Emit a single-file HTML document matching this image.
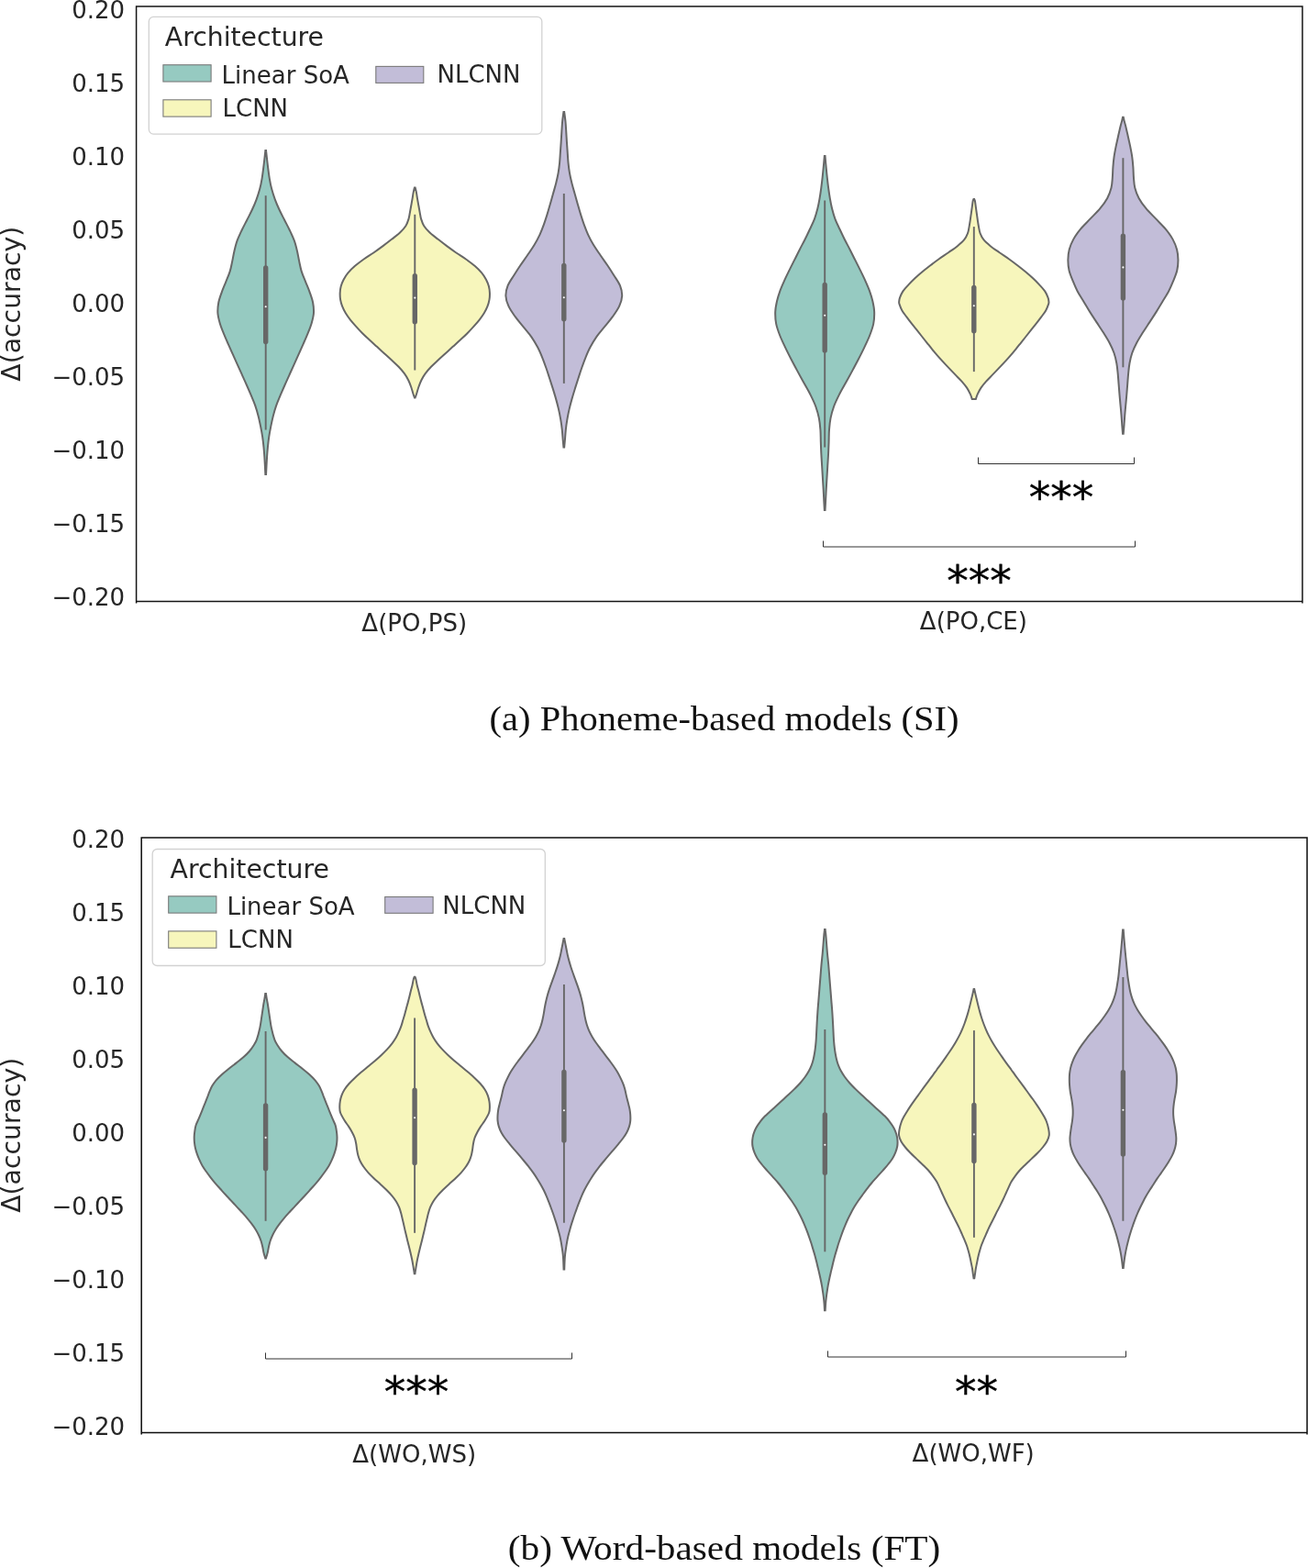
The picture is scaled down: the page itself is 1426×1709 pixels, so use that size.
<!DOCTYPE html>
<html lang="en"><head><meta charset="utf-8"><title>Violin plots</title>
<style>html,body{margin:0;padding:0;background:#fff}svg{display:block}text{font-family:"DejaVu Sans","Liberation Sans",sans-serif;fill:#262626}.cap{font-family:"Liberation Serif","DejaVu Serif",serif;fill:#111}.star{fill:#000}</style>
</head><body>
<svg width="1426" height="1709" viewBox="0 0 1426 1709">
<rect x="0" y="0" width="1426" height="1709" fill="#ffffff"/>
<path d="M290.05 164.1C290.31 166.43 290.97 172.92 291.61 178.05C292.24 183.18 293.08 190.21 293.85 194.88C294.62 199.56 295.22 202.36 296.21 206.1C297.2 209.84 298.41 213.58 299.8 217.32C301.18 221.06 302.79 224.8 304.51 228.54C306.23 232.28 308.23 236.02 310.12 239.76C312.01 243.5 314.07 247.24 315.84 250.98C317.62 254.72 319.43 258.46 320.78 262.2C322.13 265.94 323.02 269.68 323.92 273.42C324.82 277.16 325.36 280.9 326.17 284.64C326.97 288.38 327.59 292.12 328.75 295.86C329.91 299.6 331.64 303.34 333.12 307.08C334.6 310.82 336.28 314.56 337.61 318.3C338.94 322.04 340.36 325.7 341.09 329.52C341.82 333.34 342.23 337.4 341.99 341.22C341.74 345.04 340.71 348.7 339.63 352.44C338.55 356.18 336.97 359.92 335.48 363.66C333.98 367.4 332.3 371.14 330.65 374.88C329.01 378.62 327.29 382.36 325.6 386.1C323.92 389.84 322.24 393.58 320.56 397.32C318.87 401.06 317.19 404.8 315.51 408.54C313.82 412.28 312.1 416.02 310.46 419.76C308.81 423.5 307.18 427.24 305.63 430.98C304.08 434.72 302.45 438.46 301.14 442.2C299.84 445.94 298.75 449.68 297.78 453.42C296.81 457.16 296.06 460.9 295.31 464.64C294.56 468.38 293.85 472.12 293.29 475.86C292.73 479.6 292.32 483.34 291.94 487.08C291.57 490.82 291.36 493.33 291.05 498.3C290.73 503.27 290.22 513.8 290.05 516.9L289.35 516.9C289.18 513.8 288.67 503.27 288.35 498.3C288.04 493.33 287.83 490.82 287.46 487.08C287.08 483.34 286.67 479.6 286.11 475.86C285.55 472.12 284.84 468.38 284.09 464.64C283.34 460.9 282.59 457.16 281.62 453.42C280.65 449.68 279.56 445.94 278.26 442.2C276.95 438.46 275.32 434.72 273.77 430.98C272.22 427.24 270.59 423.5 268.94 419.76C267.3 416.02 265.58 412.28 263.89 408.54C262.21 404.8 260.53 401.06 258.84 397.32C257.16 393.58 255.48 389.84 253.8 386.1C252.11 382.36 250.39 378.62 248.75 374.88C247.1 371.14 245.42 367.4 243.92 363.66C242.43 359.92 240.85 356.18 239.77 352.44C238.69 348.7 237.66 345.04 237.41 341.22C237.17 337.4 237.58 333.34 238.31 329.52C239.04 325.7 240.46 322.04 241.79 318.3C243.12 314.56 244.8 310.82 246.28 307.08C247.76 303.34 249.49 299.6 250.65 295.86C251.81 292.12 252.43 288.38 253.23 284.64C254.04 280.9 254.58 277.16 255.48 273.42C256.38 269.68 257.27 265.94 258.62 262.2C259.97 258.46 261.78 254.72 263.56 250.98C265.33 247.24 267.39 243.5 269.28 239.76C271.17 236.02 273.17 232.28 274.89 228.54C276.61 224.8 278.22 221.06 279.6 217.32C280.99 213.58 282.2 209.84 283.19 206.1C284.18 202.36 284.78 199.56 285.55 194.88C286.32 190.21 287.16 183.18 287.79 178.05C288.43 172.92 289.09 166.43 289.35 164.1Z" fill="#96cac1" stroke="#676767" stroke-width="2" stroke-linejoin="miter"/>
<line x1="289.7" y1="213.2" x2="289.7" y2="468.5" stroke="#676767" stroke-width="1.9"/>
<line x1="289.7" y1="291.9" x2="289.7" y2="372.5" stroke="#676767" stroke-width="5.4" stroke-linecap="round"/>
<circle cx="289.7" cy="334.3" r="1.05" fill="#ffffff"/>
<path d="M452.65 204.4C452.86 205.27 453.5 207.54 453.91 209.63C454.31 211.72 454.66 214.5 455.08 216.94C455.49 219.38 455.96 221.82 456.4 224.26C456.83 226.69 457.25 229.13 457.71 231.57C458.18 234.01 458.42 236.45 459.18 238.89C459.93 241.32 460.69 243.76 462.25 246.2C463.81 248.64 465.98 251.08 468.54 253.51C471.1 255.95 474.51 258.39 477.61 260.83C480.7 263.27 483.82 265.7 487.12 268.14C490.41 270.58 493.82 273.02 497.36 275.46C500.89 277.89 504.91 280.33 508.33 282.77C511.74 285.21 515.03 287.65 517.84 290.08C520.64 292.52 523.13 294.96 525.15 297.4C527.17 299.84 528.68 302.28 529.98 304.71C531.27 307.15 532.24 309.59 532.9 312.03C533.56 314.47 533.83 316.9 533.93 319.34C534.02 321.78 533.9 324.22 533.49 326.66C533.07 329.09 532.39 331.53 531.44 333.97C530.49 336.41 529.25 338.85 527.78 341.28C526.32 343.72 524.56 346.16 522.66 348.6C520.76 351.04 518.57 353.47 516.37 355.91C514.18 358.35 511.94 360.79 509.5 363.23C507.06 365.67 504.38 368.1 501.74 370.54C499.11 372.98 496.38 375.42 493.7 377.86C491.02 380.29 488.33 382.73 485.65 385.17C482.97 387.61 480.22 390.05 477.61 392.48C475 394.92 472.32 397.36 470 399.8C467.68 402.24 465.49 404.67 463.71 407.11C461.93 409.55 460.54 411.99 459.32 414.43C458.1 416.86 457.25 419.3 456.4 421.74C455.54 424.18 454.83 427.1 454.2 429.06C453.58 431.01 452.91 432.76 452.65 433.5L451.95 433.5C451.69 432.76 451.02 431.01 450.4 429.06C449.77 427.1 449.06 424.18 448.2 421.74C447.35 419.3 446.5 416.86 445.28 414.43C444.06 411.99 442.67 409.55 440.89 407.11C439.11 404.67 436.92 402.24 434.6 399.8C432.28 397.36 429.6 394.92 426.99 392.48C424.38 390.05 421.63 387.61 418.95 385.17C416.27 382.73 413.58 380.29 410.9 377.86C408.22 375.42 405.49 372.98 402.86 370.54C400.22 368.1 397.54 365.67 395.1 363.23C392.66 360.79 390.42 358.35 388.23 355.91C386.03 353.47 383.84 351.04 381.94 348.6C380.04 346.16 378.28 343.72 376.82 341.28C375.35 338.85 374.11 336.41 373.16 333.97C372.21 331.53 371.53 329.09 371.11 326.66C370.7 324.22 370.58 321.78 370.67 319.34C370.77 316.9 371.04 314.47 371.7 312.03C372.36 309.59 373.33 307.15 374.62 304.71C375.92 302.28 377.43 299.84 379.45 297.4C381.47 294.96 383.96 292.52 386.76 290.08C389.57 287.65 392.86 285.21 396.27 282.77C399.69 280.33 403.71 277.89 407.24 275.46C410.78 273.02 414.19 270.58 417.48 268.14C420.78 265.7 423.9 263.27 426.99 260.83C430.09 258.39 433.5 255.95 436.06 253.51C438.62 251.08 440.79 248.64 442.35 246.2C443.91 243.76 444.67 241.32 445.42 238.89C446.18 236.45 446.42 234.01 446.89 231.57C447.35 229.13 447.77 226.69 448.2 224.26C448.64 221.82 449.11 219.38 449.52 216.94C449.94 214.5 450.29 211.72 450.69 209.63C451.1 207.54 451.74 205.27 451.95 204.4Z" fill="#f7f6bc" stroke="#676767" stroke-width="2" stroke-linejoin="miter"/>
<line x1="452.3" y1="233.8" x2="452.3" y2="403.5" stroke="#676767" stroke-width="1.9"/>
<line x1="452.3" y1="300.8" x2="452.3" y2="350.8" stroke="#676767" stroke-width="5.4" stroke-linecap="round"/>
<circle cx="452.3" cy="324.6" r="1.05" fill="#ffffff"/>
<path d="M615.15 121.9C615.37 123.66 616.13 128.81 616.48 132.44C616.84 136.07 617.03 139.92 617.27 143.66C617.51 147.4 617.7 151.14 617.94 154.88C618.18 158.62 618.47 162.36 618.73 166.1C618.99 169.84 619.14 173.58 619.51 177.32C619.89 181.06 620.32 184.8 620.97 188.54C621.63 192.28 622.5 196.02 623.44 199.76C624.37 203.5 625.53 207.24 626.58 210.98C627.63 214.72 628.66 218.46 629.72 222.2C630.79 225.94 631.82 229.68 632.98 233.42C634.14 237.16 635.31 240.9 636.68 244.64C638.04 248.38 639.43 252.12 641.17 255.86C642.91 259.6 644.87 263.34 647.11 267.08C649.36 270.82 652.07 274.56 654.63 278.3C657.19 282.04 660.05 285.91 662.49 289.52C664.92 293.13 666.97 296.34 669.22 299.96C671.46 303.57 674.45 307.47 675.95 311.22C677.45 314.97 678.33 318.7 678.19 322.44C678.06 326.18 676.85 329.92 675.16 333.66C673.48 337.4 670.77 341.14 668.1 344.88C665.42 348.62 662.11 352.36 659.12 356.1C656.13 359.84 652.76 363.58 650.14 367.32C647.53 371.06 645.38 374.8 643.41 378.54C641.45 382.28 639.9 386.02 638.36 389.76C636.83 393.5 635.52 397.24 634.21 400.98C632.9 404.72 631.72 408.46 630.51 412.2C629.29 415.94 628.08 419.68 626.92 423.42C625.76 427.16 624.6 430.9 623.55 434.64C622.5 438.38 621.49 442.12 620.63 445.86C619.77 449.6 619.03 453.34 618.39 457.08C617.75 460.82 617.23 464.56 616.82 468.3C616.41 472.04 616.2 476.31 615.92 479.52C615.64 482.74 615.28 486.25 615.15 487.6L614.45 487.6C614.32 486.25 613.96 482.74 613.68 479.52C613.4 476.31 613.19 472.04 612.78 468.3C612.37 464.56 611.85 460.82 611.21 457.08C610.57 453.34 609.83 449.6 608.97 445.86C608.11 442.12 607.1 438.38 606.05 434.64C605 430.9 603.84 427.16 602.68 423.42C601.52 419.68 600.31 415.94 599.09 412.2C597.88 408.46 596.7 404.72 595.39 400.98C594.08 397.24 592.77 393.5 591.24 389.76C589.7 386.02 588.15 382.28 586.19 378.54C584.22 374.8 582.07 371.06 579.46 367.32C576.84 363.58 573.47 359.84 570.48 356.1C567.49 352.36 564.18 348.62 561.5 344.88C558.83 341.14 556.12 337.4 554.44 333.66C552.75 329.92 551.54 326.18 551.41 322.44C551.27 318.7 552.15 314.97 553.65 311.22C555.15 307.47 558.14 303.57 560.38 299.96C562.63 296.34 564.68 293.13 567.11 289.52C569.55 285.91 572.41 282.04 574.97 278.3C577.53 274.56 580.24 270.82 582.49 267.08C584.73 263.34 586.69 259.6 588.43 255.86C590.17 252.12 591.56 248.38 592.92 244.64C594.29 240.9 595.46 237.16 596.62 233.42C597.78 229.68 598.81 225.94 599.88 222.2C600.94 218.46 601.97 214.72 603.02 210.98C604.07 207.24 605.23 203.5 606.16 199.76C607.1 196.02 607.97 192.28 608.63 188.54C609.28 184.8 609.71 181.06 610.09 177.32C610.46 173.58 610.61 169.84 610.87 166.1C611.13 162.36 611.42 158.62 611.66 154.88C611.9 151.14 612.09 147.4 612.33 143.66C612.57 139.92 612.76 136.07 613.12 132.44C613.47 128.81 614.23 123.66 614.45 121.9Z" fill="#c2bdd8" stroke="#676767" stroke-width="2" stroke-linejoin="miter"/>
<line x1="614.8" y1="211" x2="614.8" y2="417.9" stroke="#676767" stroke-width="1.9"/>
<line x1="614.8" y1="289.5" x2="614.8" y2="347.7" stroke="#676767" stroke-width="5.4" stroke-linecap="round"/>
<circle cx="614.8" cy="324.3" r="1.05" fill="#ffffff"/>
<path d="M899.55 170.1C899.73 172.16 900.29 178.51 900.66 182.44C901.03 186.37 901.37 189.92 901.78 193.66C902.19 197.4 902.62 201.14 903.13 204.88C903.63 208.62 904.16 212.36 904.81 216.1C905.46 219.84 906.12 223.58 907.05 227.32C907.99 231.06 909.02 234.8 910.42 238.54C911.82 242.28 913.73 246.02 915.47 249.76C917.21 253.5 918.98 257.24 920.85 260.98C922.73 264.72 924.78 268.46 926.69 272.2C928.6 275.94 930.43 279.68 932.3 283.42C934.17 287.16 936.08 290.9 937.91 294.64C939.74 298.38 941.61 302.12 943.3 305.86C944.98 309.6 946.66 313.34 948.01 317.08C949.35 320.82 950.51 324.52 951.37 328.3C952.23 332.08 953.02 335.67 953.16 339.76C953.31 343.86 953.08 348.54 952.24 352.87C951.4 357.2 949.77 361.46 948.12 365.75C946.47 370.04 944.36 374.33 942.32 378.62C940.29 382.91 938.1 387.2 935.89 391.49C933.68 395.78 931.38 400.07 929.07 404.37C926.75 408.66 924.35 412.95 921.99 417.24C919.63 421.53 917.05 425.82 914.91 430.11C912.76 434.4 910.68 438.69 909.11 442.98C907.55 447.28 906.37 451.57 905.51 455.86C904.65 460.15 904.28 464.44 903.96 468.73C903.64 473.02 903.73 477.31 903.58 481.6C903.43 485.89 903.28 490.19 903.06 494.48C902.85 498.77 902.55 503.06 902.29 507.35C902.03 511.64 901.77 515.93 901.52 520.22C901.26 524.51 900.98 528.8 900.74 533.1C900.51 537.39 900.3 542.13 900.1 545.97C899.9 549.8 899.64 554.41 899.55 556.1L898.85 556.1C898.76 554.41 898.5 549.8 898.3 545.97C898.1 542.13 897.89 537.39 897.66 533.1C897.42 528.8 897.14 524.51 896.88 520.22C896.63 515.93 896.37 511.64 896.11 507.35C895.85 503.06 895.55 498.77 895.34 494.48C895.12 490.19 894.97 485.89 894.82 481.6C894.67 477.31 894.76 473.02 894.44 468.73C894.12 464.44 893.75 460.15 892.89 455.86C892.03 451.57 890.85 447.28 889.29 442.98C887.72 438.69 885.64 434.4 883.49 430.11C881.35 425.82 878.77 421.53 876.41 417.24C874.05 412.95 871.65 408.66 869.33 404.37C867.02 400.07 864.72 395.78 862.51 391.49C860.3 387.2 858.11 382.91 856.08 378.62C854.04 374.33 851.93 370.04 850.28 365.75C848.63 361.46 847 357.2 846.16 352.87C845.32 348.54 845.09 343.86 845.24 339.76C845.38 335.67 846.17 332.08 847.03 328.3C847.89 324.52 849.05 320.82 850.39 317.08C851.74 313.34 853.42 309.6 855.1 305.86C856.79 302.12 858.66 298.38 860.49 294.64C862.32 290.9 864.23 287.16 866.1 283.42C867.97 279.68 869.8 275.94 871.71 272.2C873.62 268.46 875.67 264.72 877.55 260.98C879.42 257.24 881.19 253.5 882.93 249.76C884.67 246.02 886.58 242.28 887.98 238.54C889.38 234.8 890.41 231.06 891.35 227.32C892.28 223.58 892.94 219.84 893.59 216.1C894.24 212.36 894.77 208.62 895.27 204.88C895.78 201.14 896.21 197.4 896.62 193.66C897.03 189.92 897.37 186.37 897.74 182.44C898.11 178.51 898.67 172.16 898.85 170.1Z" fill="#96cac1" stroke="#676767" stroke-width="2" stroke-linejoin="miter"/>
<line x1="899.2" y1="218.6" x2="899.2" y2="487.4" stroke="#676767" stroke-width="1.9"/>
<line x1="899.2" y1="310.5" x2="899.2" y2="381.9" stroke="#676767" stroke-width="5.4" stroke-linecap="round"/>
<circle cx="899.2" cy="343.8" r="1.05" fill="#ffffff"/>
<path d="M1062.15 217.1C1062.28 217.42 1062.63 217.55 1062.92 219.04C1063.22 220.54 1063.58 223.72 1063.91 226.06C1064.23 228.41 1064.56 230.75 1064.89 233.09C1065.22 235.43 1065.52 237.77 1065.87 240.11C1066.22 242.45 1066.55 244.79 1067 247.13C1067.44 249.47 1067.65 251.81 1068.54 254.15C1069.43 256.49 1070.46 258.83 1072.33 261.17C1074.2 263.51 1076.9 265.85 1079.78 268.19C1082.65 270.54 1086.26 272.88 1089.61 275.22C1092.95 277.56 1096.58 279.9 1099.86 282.24C1103.13 284.58 1106.22 286.92 1109.27 289.26C1112.31 291.6 1115.3 293.94 1118.11 296.28C1120.92 298.62 1123.61 300.96 1126.12 303.3C1128.62 305.64 1130.96 307.98 1133.14 310.32C1135.32 312.67 1137.61 315.01 1139.18 317.35C1140.75 319.69 1141.85 322.5 1142.55 324.37C1143.25 326.24 1143.3 327.41 1143.39 328.58C1143.49 329.75 1143.65 329.75 1143.11 331.39C1142.57 333.03 1141.47 336.07 1140.16 338.41C1138.85 340.75 1136.96 343.09 1135.25 345.43C1133.54 347.77 1131.74 350.11 1129.91 352.45C1128.08 354.8 1126.17 357.14 1124.29 359.48C1122.42 361.82 1120.55 364.16 1118.68 366.5C1116.8 368.84 1114.93 371.18 1113.06 373.52C1111.19 375.86 1109.36 378.2 1107.44 380.54C1105.52 382.88 1103.58 385.22 1101.54 387.56C1099.51 389.9 1097.38 392.24 1095.22 394.58C1093.07 396.93 1090.85 399.27 1088.62 401.61C1086.4 403.95 1084.13 406.29 1081.88 408.63C1079.63 410.97 1077.2 413.31 1075.14 415.65C1073.08 417.99 1071.09 420.33 1069.52 422.67C1067.96 425.01 1066.69 427.62 1065.73 429.69C1064.78 431.76 1064.12 434.2 1063.8 435.1L1059.8 435.1C1059.48 434.2 1058.82 431.76 1057.87 429.69C1056.91 427.62 1055.64 425.01 1054.08 422.67C1052.51 420.33 1050.52 417.99 1048.46 415.65C1046.4 413.31 1043.97 410.97 1041.72 408.63C1039.47 406.29 1037.2 403.95 1034.98 401.61C1032.75 399.27 1030.53 396.93 1028.38 394.58C1026.22 392.24 1024.09 389.9 1022.06 387.56C1020.02 385.22 1018.08 382.88 1016.16 380.54C1014.24 378.2 1012.41 375.86 1010.54 373.52C1008.67 371.18 1006.8 368.84 1004.92 366.5C1003.05 364.16 1001.18 361.82 999.31 359.48C997.43 357.14 995.52 354.8 993.69 352.45C991.86 350.11 990.06 347.77 988.35 345.43C986.64 343.09 984.75 340.75 983.44 338.41C982.13 336.07 981.03 333.03 980.49 331.39C979.95 329.75 980.11 329.75 980.21 328.58C980.3 327.41 980.35 326.24 981.05 324.37C981.75 322.5 982.85 319.69 984.42 317.35C985.99 315.01 988.28 312.67 990.46 310.32C992.64 307.98 994.98 305.64 997.48 303.3C999.99 300.96 1002.68 298.62 1005.49 296.28C1008.3 293.94 1011.29 291.6 1014.33 289.26C1017.38 286.92 1020.47 284.58 1023.74 282.24C1027.02 279.9 1030.65 277.56 1033.99 275.22C1037.34 272.88 1040.95 270.54 1043.82 268.19C1046.7 265.85 1049.4 263.51 1051.27 261.17C1053.14 258.83 1054.17 256.49 1055.06 254.15C1055.95 251.81 1056.16 249.47 1056.6 247.13C1057.05 244.79 1057.38 242.45 1057.73 240.11C1058.08 237.77 1058.38 235.43 1058.71 233.09C1059.04 230.75 1059.37 228.41 1059.69 226.06C1060.02 223.72 1060.38 220.54 1060.68 219.04C1060.97 217.55 1061.32 217.42 1061.45 217.1Z" fill="#f7f6bc" stroke="#676767" stroke-width="2" stroke-linejoin="miter"/>
<line x1="1061.8" y1="247.1" x2="1061.8" y2="405.1" stroke="#676767" stroke-width="1.9"/>
<line x1="1061.8" y1="313.5" x2="1061.8" y2="360.8" stroke="#676767" stroke-width="5.4" stroke-linecap="round"/>
<circle cx="1061.8" cy="333.2" r="1.05" fill="#ffffff"/>
<path d="M1224.75 127.7C1224.9 128.39 1225.23 130.21 1225.63 131.83C1226.04 133.45 1226.51 134.64 1227.21 137.44C1227.9 140.25 1228.94 144.92 1229.79 148.66C1230.63 152.4 1231.51 156.14 1232.25 159.88C1233 163.62 1233.75 167.36 1234.27 171.1C1234.8 174.84 1235.12 178.58 1235.4 182.32C1235.68 186.06 1235.64 189.8 1235.96 193.54C1236.27 197.28 1236.37 201.02 1237.3 204.76C1238.24 208.5 1239.55 212.24 1241.57 215.98C1243.59 219.72 1246.34 223.46 1249.42 227.2C1252.51 230.94 1256.53 234.68 1260.08 238.42C1263.63 242.16 1267.65 245.9 1270.74 249.64C1273.82 253.38 1276.54 257.12 1278.59 260.86C1280.65 264.6 1282.11 268.34 1283.08 272.08C1284.05 275.82 1284.4 279.52 1284.43 283.3C1284.46 287.08 1284.13 290.94 1283.25 294.76C1282.37 298.58 1280.68 302.44 1279.15 306.22C1277.63 310 1276.07 313.7 1274.11 317.44C1272.14 321.18 1269.62 324.92 1267.37 328.66C1265.13 332.4 1262.98 336.14 1260.64 339.88C1258.3 343.62 1255.78 347.36 1253.35 351.1C1250.92 354.84 1248.39 358.58 1246.05 362.32C1243.72 366.06 1241.29 369.8 1239.32 373.54C1237.36 377.28 1235.58 381.02 1234.27 384.76C1232.96 388.5 1232.16 392.24 1231.47 395.98C1230.78 399.72 1230.5 403.46 1230.12 407.2C1229.75 410.94 1229.52 414.68 1229.22 418.42C1228.93 422.16 1228.64 425.9 1228.33 429.64C1228.01 433.38 1227.65 437.12 1227.32 440.86C1226.98 444.6 1226.61 448.34 1226.31 452.08C1226.01 455.82 1225.78 459.85 1225.52 463.3C1225.26 466.76 1224.88 471.22 1224.75 472.8L1224.05 472.8C1223.92 471.22 1223.54 466.76 1223.28 463.3C1223.02 459.85 1222.79 455.82 1222.49 452.08C1222.19 448.34 1221.82 444.6 1221.48 440.86C1221.15 437.12 1220.79 433.38 1220.47 429.64C1220.16 425.9 1219.87 422.16 1219.58 418.42C1219.28 414.68 1219.05 410.94 1218.68 407.2C1218.3 403.46 1218.02 399.72 1217.33 395.98C1216.64 392.24 1215.84 388.5 1214.53 384.76C1213.22 381.02 1211.44 377.28 1209.48 373.54C1207.51 369.8 1205.08 366.06 1202.75 362.32C1200.41 358.58 1197.88 354.84 1195.45 351.1C1193.02 347.36 1190.5 343.62 1188.16 339.88C1185.82 336.14 1183.67 332.4 1181.43 328.66C1179.18 324.92 1176.66 321.18 1174.69 317.44C1172.73 313.7 1171.17 310 1169.65 306.22C1168.12 302.44 1166.43 298.58 1165.55 294.76C1164.67 290.94 1164.34 287.08 1164.37 283.3C1164.4 279.52 1164.75 275.82 1165.72 272.08C1166.69 268.34 1168.15 264.6 1170.21 260.86C1172.26 257.12 1174.98 253.38 1178.06 249.64C1181.15 245.9 1185.17 242.16 1188.72 238.42C1192.27 234.68 1196.29 230.94 1199.38 227.2C1202.46 223.46 1205.21 219.72 1207.23 215.98C1209.25 212.24 1210.56 208.5 1211.5 204.76C1212.43 201.02 1212.53 197.28 1212.84 193.54C1213.16 189.8 1213.12 186.06 1213.4 182.32C1213.68 178.58 1214 174.84 1214.53 171.1C1215.05 167.36 1215.8 163.62 1216.55 159.88C1217.29 156.14 1218.17 152.4 1219.01 148.66C1219.86 144.92 1220.9 140.25 1221.59 137.44C1222.29 134.64 1222.76 133.45 1223.17 131.83C1223.57 130.21 1223.9 128.39 1224.05 127.7Z" fill="#c2bdd8" stroke="#676767" stroke-width="2" stroke-linejoin="miter"/>
<line x1="1224.4" y1="172.2" x2="1224.4" y2="400.3" stroke="#676767" stroke-width="1.9"/>
<line x1="1224.4" y1="257.2" x2="1224.4" y2="324.9" stroke="#676767" stroke-width="5.4" stroke-linecap="round"/>
<circle cx="1224.4" cy="291.4" r="1.05" fill="#ffffff"/>
<path d="M1066.5 498.5L1066.5 505.5L1236.5 505.5L1236.5 498.5" fill="none" stroke="#333333" stroke-width="1"/>
<path d="M897.5 589.5L897.5 596L1237.5 596L1237.5 589.5" fill="none" stroke="#333333" stroke-width="1"/>
<text class="star" x="1157" y="558.4" font-size="47" text-anchor="middle" stroke="#000" stroke-width="0.4">***</text>
<text class="star" x="1067.6" y="649.4" font-size="47" text-anchor="middle" stroke="#000" stroke-width="0.4">***</text>
<rect x="162.3" y="18.4" width="428.5" height="127.7" rx="5" ry="5" fill="#ffffff" fill-opacity="0.8" stroke="#d2d2d2" stroke-width="1.3"/>
<text x="179.8" y="50.4" font-size="28.3" text-anchor="start">Architecture</text>
<rect x="177.9" y="70.7" width="52.2" height="18.3" fill="#96cac1" stroke="#7a7a7a" stroke-width="1.1"/>
<rect x="177.9" y="108.8" width="52.2" height="18.3" fill="#f7f6bc" stroke="#7a7a7a" stroke-width="1.1"/>
<rect x="409.8" y="72.4" width="52" height="18" fill="#c2bdd8" stroke="#7a7a7a" stroke-width="1.1"/>
<text x="241.6" y="90.6" font-size="26" text-anchor="start">Linear SoA</text>
<text x="242.5" y="126.9" font-size="26" text-anchor="start">LCNN</text>
<text x="476.5" y="89.9" font-size="26" text-anchor="start">NLCNN</text>
<path d="M148.6 657.4L148.6 6.9L1419.9 6.9L1419.9 657.4L1419.9 655.4" fill="none" stroke="#141414" stroke-width="1.5"/>
<line x1="148.6" y1="655.4" x2="1419.9" y2="655.4" stroke="#141414" stroke-width="1.5"/>
<text x="136.1" y="19.8" font-size="26" text-anchor="end">0.20</text>
<text x="136.1" y="99.8" font-size="26" text-anchor="end">0.15</text>
<text x="136.1" y="179.8" font-size="26" text-anchor="end">0.10</text>
<text x="136.1" y="259.8" font-size="26" text-anchor="end">0.05</text>
<text x="136.1" y="339.8" font-size="26" text-anchor="end">0.00</text>
<text x="136.1" y="419.8" font-size="26" text-anchor="end">−0.05</text>
<text x="136.1" y="499.8" font-size="26" text-anchor="end">−0.10</text>
<text x="136.1" y="579.8" font-size="26" text-anchor="end">−0.15</text>
<text x="136.1" y="659.8" font-size="26" text-anchor="end">−0.20</text>
<text transform="translate(21.6 331.15) rotate(-90)" font-size="28.3" text-anchor="middle">Δ(accuracy)</text>
<text x="451.7" y="687.5" font-size="26" text-anchor="middle">Δ(PO,PS)</text>
<text x="1061.4" y="685.7" font-size="26" text-anchor="middle">Δ(PO,CE)</text>
<path d="M289.95 1082.9C290.1 1083.91 290.52 1086.88 290.86 1088.93C291.2 1090.99 291.49 1092.09 292 1095.25C292.5 1098.4 293.24 1103.66 293.89 1107.87C294.54 1112.08 295.01 1116.28 295.91 1120.49C296.82 1124.7 298.18 1129.96 299.32 1133.11C300.46 1136.27 301.4 1137.32 302.73 1139.42C304.05 1141.53 305.46 1143.63 307.27 1145.74C309.08 1147.84 311.23 1149.94 313.58 1152.05C315.94 1154.15 318.74 1156.26 321.41 1158.36C324.08 1160.46 326.98 1162.57 329.61 1164.67C332.24 1166.77 334.87 1168.88 337.19 1170.98C339.5 1173.09 341.71 1175.19 343.5 1177.29C345.29 1179.4 346.7 1181.5 347.92 1183.6C349.14 1185.71 349.94 1187.81 350.82 1189.92C351.7 1192.02 352.4 1194.12 353.22 1196.23C354.04 1198.33 354.9 1200.43 355.74 1202.54C356.58 1204.64 357.43 1206.75 358.27 1208.85C359.11 1210.95 360.03 1213.31 360.79 1215.16C361.55 1217.01 362.01 1218.1 362.81 1219.96C363.61 1221.82 364.92 1224.2 365.59 1226.31C366.26 1228.42 366.54 1230.52 366.85 1232.62C367.17 1234.73 367.42 1236.83 367.48 1238.93C367.55 1241.04 367.44 1243.14 367.23 1245.25C367.02 1247.35 366.7 1249.45 366.22 1251.56C365.74 1253.66 365.06 1255.76 364.33 1257.87C363.59 1259.97 362.75 1262.08 361.8 1264.18C360.86 1266.28 359.87 1268.39 358.65 1270.49C357.43 1272.59 355.95 1274.7 354.48 1276.8C353.01 1278.91 351.43 1281.01 349.81 1283.11C348.19 1285.22 346.55 1287.32 344.76 1289.42C342.97 1291.53 340.97 1293.63 339.08 1295.74C337.19 1297.84 335.34 1299.94 333.4 1302.05C331.47 1304.15 329.42 1306.26 327.47 1308.36C325.51 1310.46 323.62 1312.57 321.66 1314.67C319.71 1316.77 317.66 1318.88 315.73 1320.98C313.79 1323.09 311.84 1325.19 310.05 1327.29C308.26 1329.4 306.58 1331.5 305 1333.6C303.42 1335.71 301.89 1337.81 300.58 1339.92C299.28 1342.02 298.16 1344.12 297.17 1346.23C296.18 1348.33 295.34 1350.43 294.65 1352.54C293.95 1354.64 293.49 1356.75 293.01 1358.85C292.52 1360.95 292.26 1363.05 291.75 1365.16C291.24 1367.27 290.25 1370.44 289.95 1371.5L289.25 1371.5C288.95 1370.44 287.96 1367.27 287.45 1365.16C286.94 1363.05 286.68 1360.95 286.19 1358.85C285.71 1356.75 285.25 1354.64 284.55 1352.54C283.86 1350.43 283.02 1348.33 282.03 1346.23C281.04 1344.12 279.92 1342.02 278.62 1339.92C277.31 1337.81 275.78 1335.71 274.2 1333.6C272.62 1331.5 270.94 1329.4 269.15 1327.29C267.36 1325.19 265.41 1323.09 263.47 1320.98C261.54 1318.88 259.49 1316.77 257.54 1314.67C255.58 1312.57 253.69 1310.46 251.73 1308.36C249.78 1306.26 247.73 1304.15 245.8 1302.05C243.86 1299.94 242.01 1297.84 240.12 1295.74C238.23 1293.63 236.23 1291.53 234.44 1289.42C232.65 1287.32 231.01 1285.22 229.39 1283.11C227.77 1281.01 226.19 1278.91 224.72 1276.8C223.25 1274.7 221.77 1272.59 220.55 1270.49C219.33 1268.39 218.34 1266.28 217.4 1264.18C216.45 1262.08 215.61 1259.97 214.87 1257.87C214.14 1255.76 213.46 1253.66 212.98 1251.56C212.5 1249.45 212.18 1247.35 211.97 1245.25C211.76 1243.14 211.65 1241.04 211.72 1238.93C211.78 1236.83 212.03 1234.73 212.35 1232.62C212.66 1230.52 212.94 1228.42 213.61 1226.31C214.28 1224.2 215.59 1221.82 216.39 1219.96C217.19 1218.1 217.65 1217.01 218.41 1215.16C219.17 1213.31 220.09 1210.95 220.93 1208.85C221.77 1206.75 222.62 1204.64 223.46 1202.54C224.3 1200.43 225.16 1198.33 225.98 1196.23C226.8 1194.12 227.5 1192.02 228.38 1189.92C229.26 1187.81 230.06 1185.71 231.28 1183.6C232.5 1181.5 233.91 1179.4 235.7 1177.29C237.49 1175.19 239.7 1173.09 242.01 1170.98C244.33 1168.88 246.96 1166.77 249.59 1164.67C252.22 1162.57 255.12 1160.46 257.79 1158.36C260.46 1156.26 263.26 1154.15 265.62 1152.05C267.97 1149.94 270.12 1147.84 271.93 1145.74C273.74 1143.63 275.15 1141.53 276.47 1139.42C277.8 1137.32 278.74 1136.27 279.88 1133.11C281.02 1129.96 282.38 1124.7 283.29 1120.49C284.19 1116.28 284.66 1112.08 285.31 1107.87C285.96 1103.66 286.7 1098.4 287.2 1095.25C287.71 1092.09 288 1090.99 288.34 1088.93C288.68 1086.88 289.1 1083.91 289.25 1082.9Z" fill="#96cac1" stroke="#676767" stroke-width="2" stroke-linejoin="miter"/>
<line x1="289.6" y1="1124" x2="289.6" y2="1330.8" stroke="#676767" stroke-width="1.9"/>
<line x1="289.6" y1="1205" x2="289.6" y2="1273.7" stroke="#676767" stroke-width="5.4" stroke-linecap="round"/>
<circle cx="289.6" cy="1239.9" r="1.05" fill="#ffffff"/>
<path d="M452.45 1064.7C452.62 1065.19 453.11 1066.08 453.49 1067.62C453.87 1069.16 454.27 1071.83 454.75 1073.93C455.23 1076.04 455.87 1078.14 456.39 1080.25C456.92 1082.35 457.38 1084.45 457.91 1086.56C458.43 1088.66 458.98 1090.76 459.55 1092.87C460.12 1094.97 460.75 1097.08 461.31 1099.18C461.88 1101.28 462.37 1103.39 462.96 1105.49C463.54 1107.59 464.22 1109.7 464.85 1111.8C465.48 1113.91 466.01 1116.01 466.74 1118.11C467.48 1120.22 468.32 1122.32 469.27 1124.42C470.21 1126.53 471.2 1128.63 472.42 1130.74C473.64 1132.84 475.01 1134.94 476.59 1137.05C478.17 1139.15 479.95 1141.26 481.89 1143.36C483.83 1145.46 485.99 1147.57 488.2 1149.67C490.41 1151.77 492.72 1153.88 495.14 1155.98C497.56 1158.09 500.19 1160.19 502.72 1162.29C505.24 1164.4 507.83 1166.5 510.29 1168.6C512.75 1170.71 515.23 1172.81 517.49 1174.92C519.74 1177.02 521.95 1179.12 523.8 1181.23C525.65 1183.33 527.27 1185.43 528.59 1187.54C529.92 1189.64 530.95 1191.75 531.75 1193.85C532.55 1195.95 533.03 1198.06 533.39 1200.16C533.75 1202.27 533.94 1204.37 533.9 1206.47C533.85 1208.58 534.02 1210.31 533.14 1212.78C532.25 1215.26 530.09 1218.84 528.59 1221.31C527.1 1223.78 525.54 1225.52 524.18 1227.62C522.81 1229.73 521.5 1231.83 520.39 1233.93C519.27 1236.04 518.22 1238.14 517.49 1240.25C516.75 1242.35 516.37 1244.45 515.97 1246.56C515.57 1248.66 515.45 1250.76 515.09 1252.87C514.73 1254.97 514.41 1257.08 513.83 1259.18C513.24 1261.28 512.56 1263.39 511.55 1265.49C510.54 1267.59 509.24 1269.7 507.77 1271.8C506.29 1273.91 504.61 1276.01 502.72 1278.11C500.82 1280.22 498.61 1282.32 496.41 1284.42C494.2 1286.53 491.74 1288.63 489.46 1290.74C487.19 1292.84 484.88 1294.94 482.77 1297.05C480.67 1299.15 478.61 1301.26 476.84 1303.36C475.07 1305.46 473.47 1307.57 472.17 1309.67C470.87 1311.77 469.88 1313.88 469.01 1315.98C468.15 1318.09 467.58 1320.19 466.99 1322.29C466.41 1324.4 465.98 1326.5 465.48 1328.6C464.98 1330.71 464.45 1332.81 463.97 1334.92C463.48 1337.02 463.06 1339.12 462.58 1341.23C462.09 1343.33 461.57 1345.43 461.06 1347.54C460.56 1349.64 460.07 1351.75 459.55 1353.85C459.02 1355.95 458.43 1358.06 457.91 1360.16C457.38 1362.27 456.88 1364.37 456.39 1366.47C455.91 1368.58 455.42 1370.68 455 1372.78C454.58 1374.89 454.22 1376.99 453.87 1379.1C453.51 1381.2 453.09 1383.87 452.86 1385.41C452.62 1386.94 452.52 1387.82 452.45 1388.3L451.75 1388.3C451.68 1387.82 451.58 1386.94 451.34 1385.41C451.11 1383.87 450.69 1381.2 450.33 1379.1C449.98 1376.99 449.62 1374.89 449.2 1372.78C448.78 1370.68 448.29 1368.58 447.81 1366.47C447.32 1364.37 446.82 1362.27 446.29 1360.16C445.77 1358.06 445.18 1355.95 444.65 1353.85C444.13 1351.75 443.64 1349.64 443.14 1347.54C442.63 1345.43 442.11 1343.33 441.62 1341.23C441.14 1339.12 440.72 1337.02 440.23 1334.92C439.75 1332.81 439.22 1330.71 438.72 1328.6C438.22 1326.5 437.79 1324.4 437.21 1322.29C436.62 1320.19 436.05 1318.09 435.19 1315.98C434.32 1313.88 433.33 1311.77 432.03 1309.67C430.73 1307.57 429.13 1305.46 427.36 1303.36C425.59 1301.26 423.53 1299.15 421.43 1297.05C419.32 1294.94 417.01 1292.84 414.74 1290.74C412.46 1288.63 410 1286.53 407.79 1284.42C405.59 1282.32 403.38 1280.22 401.48 1278.11C399.59 1276.01 397.91 1273.91 396.43 1271.8C394.96 1269.7 393.66 1267.59 392.65 1265.49C391.64 1263.39 390.96 1261.28 390.37 1259.18C389.79 1257.08 389.47 1254.97 389.11 1252.87C388.75 1250.76 388.63 1248.66 388.23 1246.56C387.83 1244.45 387.45 1242.35 386.71 1240.25C385.98 1238.14 384.93 1236.04 383.81 1233.93C382.7 1231.83 381.39 1229.73 380.02 1227.62C378.66 1225.52 377.1 1223.78 375.61 1221.31C374.11 1218.84 371.95 1215.26 371.06 1212.78C370.18 1210.31 370.35 1208.58 370.3 1206.47C370.26 1204.37 370.45 1202.27 370.81 1200.16C371.17 1198.06 371.65 1195.95 372.45 1193.85C373.25 1191.75 374.28 1189.64 375.61 1187.54C376.93 1185.43 378.55 1183.33 380.4 1181.23C382.25 1179.12 384.46 1177.02 386.71 1174.92C388.97 1172.81 391.45 1170.71 393.91 1168.6C396.37 1166.5 398.96 1164.4 401.48 1162.29C404.01 1160.19 406.64 1158.09 409.06 1155.98C411.48 1153.88 413.79 1151.77 416 1149.67C418.21 1147.57 420.37 1145.46 422.31 1143.36C424.25 1141.26 426.03 1139.15 427.61 1137.05C429.19 1134.94 430.56 1132.84 431.78 1130.74C433 1128.63 433.99 1126.53 434.93 1124.42C435.88 1122.32 436.72 1120.22 437.46 1118.11C438.19 1116.01 438.72 1113.91 439.35 1111.8C439.98 1109.7 440.66 1107.59 441.24 1105.49C441.83 1103.39 442.32 1101.28 442.89 1099.18C443.45 1097.08 444.08 1094.97 444.65 1092.87C445.22 1090.76 445.77 1088.66 446.29 1086.56C446.82 1084.45 447.28 1082.35 447.81 1080.25C448.33 1078.14 448.97 1076.04 449.45 1073.93C449.93 1071.83 450.33 1069.16 450.71 1067.62C451.09 1066.08 451.58 1065.19 451.75 1064.7Z" fill="#f7f6bc" stroke="#676767" stroke-width="2" stroke-linejoin="miter"/>
<line x1="452.1" y1="1109.5" x2="452.1" y2="1343.8" stroke="#676767" stroke-width="1.9"/>
<line x1="452.1" y1="1188.2" x2="452.1" y2="1267.4" stroke="#676767" stroke-width="5.4" stroke-linecap="round"/>
<circle cx="452.1" cy="1218.2" r="1.05" fill="#ffffff"/>
<path d="M615.25 1022.9C615.44 1023.91 616.01 1026.88 616.41 1028.93C616.82 1030.99 617.26 1033.14 617.68 1035.25C618.1 1037.35 618.46 1039.45 618.94 1041.56C619.42 1043.66 619.99 1045.76 620.58 1047.87C621.17 1049.97 621.8 1052.08 622.47 1054.18C623.15 1056.28 623.88 1058.39 624.62 1060.49C625.36 1062.59 626.13 1064.7 626.89 1066.8C627.65 1068.91 628.43 1071.01 629.16 1073.11C629.9 1075.22 630.64 1077.32 631.31 1079.42C631.98 1081.53 632.63 1083.63 633.2 1085.74C633.77 1087.84 634.25 1089.94 634.72 1092.05C635.18 1094.15 635.6 1096.26 635.98 1098.36C636.36 1100.46 636.61 1102.57 636.99 1104.67C637.37 1106.77 637.77 1108.88 638.25 1110.98C638.74 1113.09 639.22 1115.19 639.89 1117.29C640.57 1119.4 641.34 1121.5 642.29 1123.6C643.24 1125.71 644.35 1127.81 645.57 1129.92C646.79 1132.02 648.16 1134.12 649.61 1136.23C651.06 1138.33 652.71 1140.43 654.28 1142.54C655.86 1144.64 657.48 1146.75 659.08 1148.85C660.68 1150.95 662.3 1153.06 663.88 1155.16C665.45 1157.27 667.07 1159.37 668.55 1161.47C670.02 1163.58 671.45 1165.68 672.71 1167.78C673.97 1169.89 675.07 1171.99 676.12 1174.1C677.17 1176.2 678.18 1178.3 679.02 1180.41C679.86 1182.51 680.45 1184.07 681.17 1186.72C681.88 1189.37 682.68 1193.66 683.32 1196.31C683.95 1198.96 684.43 1200.52 684.96 1202.62C685.48 1204.73 686.09 1206.83 686.47 1208.93C686.85 1211.04 687.1 1213.14 687.23 1215.25C687.35 1217.35 687.44 1219.45 687.23 1221.56C687.02 1223.66 686.62 1225.76 685.97 1227.87C685.31 1229.97 684.43 1232.08 683.32 1234.18C682.2 1236.28 680.79 1238.39 679.28 1240.49C677.76 1242.59 675.95 1244.7 674.23 1246.8C672.5 1248.91 670.71 1251.01 668.93 1253.11C667.14 1255.22 665.29 1257.32 663.5 1259.42C661.71 1261.53 659.94 1263.63 658.2 1265.74C656.45 1267.84 654.66 1269.94 653.02 1272.05C651.38 1274.15 649.82 1276.26 648.35 1278.36C646.88 1280.46 645.51 1282.57 644.18 1284.67C642.86 1286.77 641.6 1288.88 640.4 1290.98C639.2 1293.09 638.04 1295.19 636.99 1297.29C635.94 1299.4 634.99 1301.5 634.09 1303.6C633.18 1305.71 632.38 1307.81 631.56 1309.92C630.74 1312.02 629.94 1314.12 629.16 1316.23C628.39 1318.33 627.63 1320.43 626.89 1322.54C626.16 1324.64 625.44 1326.75 624.75 1328.85C624.05 1330.95 623.36 1333.06 622.73 1335.16C622.09 1337.27 621.53 1339.37 620.96 1341.47C620.39 1343.58 619.8 1345.68 619.32 1347.78C618.83 1349.89 618.43 1351.99 618.06 1354.1C617.68 1356.2 617.36 1358.3 617.05 1360.41C616.73 1362.51 616.39 1364.61 616.16 1366.72C615.93 1368.82 615.81 1370.22 615.66 1373.03C615.51 1375.84 615.32 1381.84 615.25 1383.6L614.55 1383.6C614.48 1381.84 614.29 1375.84 614.14 1373.03C613.99 1370.22 613.87 1368.82 613.64 1366.72C613.41 1364.61 613.07 1362.51 612.75 1360.41C612.44 1358.3 612.12 1356.2 611.74 1354.1C611.37 1351.99 610.97 1349.89 610.48 1347.78C610 1345.68 609.41 1343.58 608.84 1341.47C608.27 1339.37 607.71 1337.27 607.07 1335.16C606.44 1333.06 605.75 1330.95 605.05 1328.85C604.36 1326.75 603.64 1324.64 602.91 1322.54C602.17 1320.43 601.41 1318.33 600.64 1316.23C599.86 1314.12 599.06 1312.02 598.24 1309.92C597.42 1307.81 596.62 1305.71 595.71 1303.6C594.81 1301.5 593.86 1299.4 592.81 1297.29C591.76 1295.19 590.6 1293.09 589.4 1290.98C588.2 1288.88 586.94 1286.77 585.62 1284.67C584.29 1282.57 582.92 1280.46 581.45 1278.36C579.98 1276.26 578.42 1274.15 576.78 1272.05C575.14 1269.94 573.35 1267.84 571.6 1265.74C569.86 1263.63 568.09 1261.53 566.3 1259.42C564.51 1257.32 562.66 1255.22 560.87 1253.11C559.09 1251.01 557.3 1248.91 555.57 1246.8C553.85 1244.7 552.04 1242.59 550.52 1240.49C549.01 1238.39 547.6 1236.28 546.48 1234.18C545.37 1232.08 544.49 1229.97 543.83 1227.87C543.18 1225.76 542.78 1223.66 542.57 1221.56C542.36 1219.45 542.45 1217.35 542.57 1215.25C542.7 1213.14 542.95 1211.04 543.33 1208.93C543.71 1206.83 544.32 1204.73 544.84 1202.62C545.37 1200.52 545.85 1198.96 546.48 1196.31C547.12 1193.66 547.92 1189.37 548.63 1186.72C549.35 1184.07 549.94 1182.51 550.78 1180.41C551.62 1178.3 552.63 1176.2 553.68 1174.1C554.73 1171.99 555.83 1169.89 557.09 1167.78C558.35 1165.68 559.78 1163.58 561.25 1161.47C562.73 1159.37 564.35 1157.27 565.92 1155.16C567.5 1153.06 569.12 1150.95 570.72 1148.85C572.32 1146.75 573.94 1144.64 575.52 1142.54C577.09 1140.43 578.74 1138.33 580.19 1136.23C581.64 1134.12 583.01 1132.02 584.23 1129.92C585.45 1127.81 586.56 1125.71 587.51 1123.6C588.46 1121.5 589.23 1119.4 589.91 1117.29C590.58 1115.19 591.06 1113.09 591.55 1110.98C592.03 1108.88 592.43 1106.77 592.81 1104.67C593.19 1102.57 593.44 1100.46 593.82 1098.36C594.2 1096.26 594.62 1094.15 595.08 1092.05C595.55 1089.94 596.03 1087.84 596.6 1085.74C597.17 1083.63 597.82 1081.53 598.49 1079.42C599.16 1077.32 599.9 1075.22 600.64 1073.11C601.37 1071.01 602.15 1068.91 602.91 1066.8C603.67 1064.7 604.44 1062.59 605.18 1060.49C605.92 1058.39 606.65 1056.28 607.33 1054.18C608 1052.08 608.63 1049.97 609.22 1047.87C609.81 1045.76 610.38 1043.66 610.86 1041.56C611.34 1039.45 611.7 1037.35 612.12 1035.25C612.54 1033.14 612.98 1030.99 613.39 1028.93C613.79 1026.88 614.36 1023.91 614.55 1022.9Z" fill="#c2bdd8" stroke="#676767" stroke-width="2" stroke-linejoin="miter"/>
<line x1="614.9" y1="1073.1" x2="614.9" y2="1332.7" stroke="#676767" stroke-width="1.9"/>
<line x1="614.9" y1="1168.5" x2="614.9" y2="1243.1" stroke="#676767" stroke-width="5.4" stroke-linecap="round"/>
<circle cx="614.9" cy="1210.2" r="1.05" fill="#ffffff"/>
<path d="M899.7 1013.1C899.81 1014.13 900.18 1017.2 900.38 1019.31C900.58 1021.42 900.64 1022.53 900.89 1025.75C901.15 1028.96 901.54 1034.33 901.92 1038.62C902.31 1042.91 902.83 1047.2 903.21 1051.49C903.6 1055.78 903.9 1060.07 904.24 1064.37C904.59 1068.66 904.93 1072.95 905.27 1077.24C905.61 1081.53 905.96 1085.82 906.3 1090.11C906.64 1094.4 907.03 1098.69 907.33 1102.98C907.63 1107.28 907.87 1111.57 908.1 1115.86C908.34 1120.15 908.58 1125.51 908.75 1128.73C908.92 1131.95 908.96 1133.02 909.13 1135.17C909.31 1137.31 909.52 1139.46 909.78 1141.6C910.03 1143.75 910.31 1145.89 910.68 1148.04C911.04 1150.19 911.43 1152.33 911.97 1154.48C912.5 1156.62 913.08 1158.77 913.9 1160.91C914.71 1163.06 915.68 1165.2 916.86 1167.35C918.04 1169.49 919.43 1171.64 920.98 1173.79C922.52 1175.93 924.24 1178.08 926.13 1180.22C928.01 1182.37 930.16 1184.51 932.3 1186.66C934.45 1188.8 936.7 1190.95 939 1193.1C941.29 1195.24 943.72 1197.39 946.08 1199.53C948.44 1201.68 950.04 1203.13 953.16 1205.97C956.28 1208.81 961.92 1213.72 964.78 1216.58C967.64 1219.45 968.67 1220.97 970.31 1223.17C971.96 1225.36 973.49 1227.55 974.66 1229.75C975.82 1231.94 976.65 1234.14 977.29 1236.33C977.93 1238.53 978.32 1240.72 978.48 1242.91C978.63 1245.11 978.58 1247.3 978.21 1249.5C977.84 1251.69 977.11 1253.89 976.24 1256.08C975.36 1258.27 974.31 1260.47 972.95 1262.66C971.59 1264.86 969.83 1267.05 968.07 1269.25C966.32 1271.44 964.34 1273.63 962.41 1275.83C960.48 1278.02 958.46 1280.22 956.49 1282.41C954.51 1284.61 952.43 1286.8 950.56 1288.99C948.7 1291.19 946.99 1293.38 945.3 1295.58C943.61 1297.77 942.03 1299.96 940.43 1302.16C938.82 1304.35 937.18 1306.55 935.69 1308.74C934.19 1310.94 932.79 1313.13 931.47 1315.32C930.16 1317.52 928.95 1319.71 927.79 1321.91C926.62 1324.1 925.53 1326.3 924.5 1328.49C923.46 1330.68 922.52 1332.88 921.6 1335.07C920.68 1337.27 919.8 1339.46 918.97 1341.66C918.13 1343.85 917.36 1346.04 916.6 1348.24C915.83 1350.43 915.06 1352.63 914.36 1354.82C913.66 1357.02 913.04 1359.21 912.38 1361.4C911.73 1363.6 911.02 1365.79 910.41 1367.99C909.79 1370.18 909.25 1372.38 908.7 1374.57C908.15 1376.76 907.64 1378.96 907.12 1381.15C906.59 1383.35 906.04 1385.54 905.54 1387.74C905.03 1389.93 904.55 1392.12 904.09 1394.32C903.63 1396.51 903.17 1398.71 902.77 1400.9C902.38 1403.1 902.05 1405.29 901.72 1407.48C901.39 1409.68 901.06 1411.87 900.8 1414.07C900.53 1416.26 900.32 1418.28 900.14 1420.65C899.96 1423.02 899.77 1427.02 899.7 1428.3L899 1428.3C898.93 1427.02 898.74 1423.02 898.56 1420.65C898.38 1418.28 898.17 1416.26 897.9 1414.07C897.64 1411.87 897.31 1409.68 896.98 1407.48C896.65 1405.29 896.32 1403.1 895.93 1400.9C895.53 1398.71 895.07 1396.51 894.61 1394.32C894.15 1392.12 893.67 1389.93 893.16 1387.74C892.66 1385.54 892.11 1383.35 891.58 1381.15C891.06 1378.96 890.55 1376.76 890 1374.57C889.45 1372.38 888.91 1370.18 888.29 1367.99C887.68 1365.79 886.97 1363.6 886.32 1361.4C885.66 1359.21 885.04 1357.02 884.34 1354.82C883.64 1352.63 882.87 1350.43 882.1 1348.24C881.34 1346.04 880.57 1343.85 879.73 1341.66C878.9 1339.46 878.02 1337.27 877.1 1335.07C876.18 1332.88 875.24 1330.68 874.2 1328.49C873.17 1326.3 872.08 1324.1 870.91 1321.91C869.75 1319.71 868.54 1317.52 867.23 1315.32C865.91 1313.13 864.51 1310.94 863.01 1308.74C861.52 1306.55 859.88 1304.35 858.27 1302.16C856.67 1299.96 855.09 1297.77 853.4 1295.58C851.71 1293.38 850 1291.19 848.14 1288.99C846.27 1286.8 844.19 1284.61 842.21 1282.41C840.24 1280.22 838.22 1278.02 836.29 1275.83C834.36 1273.63 832.38 1271.44 830.63 1269.25C828.87 1267.05 827.11 1264.86 825.75 1262.66C824.39 1260.47 823.34 1258.27 822.46 1256.08C821.59 1253.89 820.86 1251.69 820.49 1249.5C820.12 1247.3 820.07 1245.11 820.22 1242.91C820.38 1240.72 820.77 1238.53 821.41 1236.33C822.05 1234.14 822.88 1231.94 824.04 1229.75C825.21 1227.55 826.74 1225.36 828.39 1223.17C830.03 1220.97 831.06 1219.45 833.92 1216.58C836.78 1213.72 842.42 1208.81 845.54 1205.97C848.66 1203.13 850.26 1201.68 852.62 1199.53C854.98 1197.39 857.41 1195.24 859.7 1193.1C862 1190.95 864.25 1188.8 866.4 1186.66C868.54 1184.51 870.69 1182.37 872.57 1180.22C874.46 1178.08 876.18 1175.93 877.72 1173.79C879.27 1171.64 880.66 1169.49 881.84 1167.35C883.02 1165.2 883.99 1163.06 884.8 1160.91C885.62 1158.77 886.2 1156.62 886.73 1154.48C887.27 1152.33 887.66 1150.19 888.02 1148.04C888.39 1145.89 888.67 1143.75 888.92 1141.6C889.18 1139.46 889.39 1137.31 889.57 1135.17C889.74 1133.02 889.78 1131.95 889.95 1128.73C890.12 1125.51 890.36 1120.15 890.6 1115.86C890.83 1111.57 891.07 1107.28 891.37 1102.98C891.67 1098.69 892.06 1094.4 892.4 1090.11C892.74 1085.82 893.09 1081.53 893.43 1077.24C893.77 1072.95 894.11 1068.66 894.46 1064.37C894.8 1060.07 895.1 1055.78 895.49 1051.49C895.87 1047.2 896.39 1042.91 896.78 1038.62C897.16 1034.33 897.55 1028.96 897.81 1025.75C898.06 1022.53 898.12 1021.42 898.32 1019.31C898.52 1017.2 898.89 1014.13 899 1013.1Z" fill="#96cac1" stroke="#676767" stroke-width="2" stroke-linejoin="miter"/>
<line x1="899.35" y1="1122" x2="899.35" y2="1364.3" stroke="#676767" stroke-width="1.9"/>
<line x1="899.35" y1="1215" x2="899.35" y2="1278.2" stroke="#676767" stroke-width="5.4" stroke-linecap="round"/>
<circle cx="899.35" cy="1247.8" r="1.05" fill="#ffffff"/>
<path d="M1062.25 1078.1C1062.47 1079.07 1063.07 1081.91 1063.54 1083.93C1064.01 1085.96 1064.55 1088.14 1065.06 1090.25C1065.56 1092.35 1066.04 1094.45 1066.57 1096.56C1067.1 1098.66 1067.62 1100.76 1068.21 1102.87C1068.8 1104.97 1069.43 1107.08 1070.1 1109.18C1070.78 1111.28 1071.47 1113.39 1072.25 1115.49C1073.03 1117.59 1073.87 1119.7 1074.78 1121.8C1075.68 1123.91 1076.63 1126.01 1077.68 1128.11C1078.73 1130.22 1079.89 1132.32 1081.09 1134.42C1082.29 1136.53 1083.55 1138.63 1084.87 1140.74C1086.2 1142.84 1087.61 1144.94 1089.04 1147.05C1090.47 1149.15 1091.98 1151.26 1093.46 1153.36C1094.93 1155.46 1096.36 1157.57 1097.87 1159.67C1099.39 1161.77 1101.01 1163.88 1102.55 1165.98C1104.08 1168.09 1105.55 1170.19 1107.09 1172.29C1108.63 1174.4 1110.2 1176.5 1111.76 1178.6C1113.32 1180.71 1114.89 1182.81 1116.43 1184.92C1117.97 1187.02 1119.44 1189.12 1120.97 1191.23C1122.51 1193.33 1124.13 1195.43 1125.64 1197.54C1127.16 1199.64 1128.63 1201.75 1130.06 1203.85C1131.49 1205.95 1132.9 1208.06 1134.23 1210.16C1135.55 1212.27 1136.88 1214.37 1138.02 1216.47C1139.15 1218.58 1140.16 1220.31 1141.04 1222.78C1141.93 1225.26 1142.87 1228.84 1143.32 1231.31C1143.76 1233.78 1144.01 1235.52 1143.7 1237.62C1143.38 1239.73 1142.54 1241.83 1141.42 1243.93C1140.31 1246.04 1138.69 1248.14 1137.01 1250.25C1135.32 1252.35 1133.37 1254.45 1131.32 1256.56C1129.28 1258.66 1126.97 1260.76 1124.76 1262.87C1122.55 1264.97 1120.24 1267.08 1118.07 1269.18C1115.9 1271.28 1113.65 1273.39 1111.76 1275.49C1109.87 1277.59 1108.25 1279.7 1106.71 1281.8C1105.17 1283.91 1103.74 1286.01 1102.55 1288.11C1101.35 1290.22 1100.5 1292.32 1099.52 1294.42C1098.53 1296.53 1097.58 1298.63 1096.61 1300.74C1095.64 1302.84 1094.7 1304.94 1093.71 1307.05C1092.72 1309.15 1091.73 1311.26 1090.68 1313.36C1089.63 1315.46 1088.47 1317.57 1087.4 1319.67C1086.32 1321.77 1085.29 1323.88 1084.24 1325.98C1083.19 1328.09 1082.14 1330.19 1081.09 1332.29C1080.03 1334.4 1078.92 1336.5 1077.93 1338.6C1076.94 1340.71 1076.08 1342.81 1075.15 1344.92C1074.23 1347.02 1073.26 1349.12 1072.38 1351.23C1071.49 1353.33 1070.59 1355.43 1069.85 1357.54C1069.12 1359.64 1068.55 1361.75 1067.96 1363.85C1067.37 1365.95 1066.8 1368.06 1066.32 1370.16C1065.83 1372.27 1065.48 1374.37 1065.06 1376.47C1064.63 1378.58 1064.15 1380.68 1063.79 1382.78C1063.44 1384.89 1063.17 1387.34 1062.91 1389.1C1062.65 1390.85 1062.36 1392.6 1062.25 1393.3L1061.55 1393.3C1061.44 1392.6 1061.15 1390.85 1060.89 1389.1C1060.63 1387.34 1060.36 1384.89 1060.01 1382.78C1059.65 1380.68 1059.17 1378.58 1058.74 1376.47C1058.32 1374.37 1057.97 1372.27 1057.48 1370.16C1057 1368.06 1056.43 1365.95 1055.84 1363.85C1055.25 1361.75 1054.68 1359.64 1053.95 1357.54C1053.21 1355.43 1052.31 1353.33 1051.42 1351.23C1050.54 1349.12 1049.57 1347.02 1048.65 1344.92C1047.72 1342.81 1046.86 1340.71 1045.87 1338.6C1044.88 1336.5 1043.77 1334.4 1042.71 1332.29C1041.66 1330.19 1040.61 1328.09 1039.56 1325.98C1038.51 1323.88 1037.48 1321.77 1036.4 1319.67C1035.33 1317.57 1034.17 1315.46 1033.12 1313.36C1032.07 1311.26 1031.08 1309.15 1030.09 1307.05C1029.1 1304.94 1028.16 1302.84 1027.19 1300.74C1026.22 1298.63 1025.27 1296.53 1024.28 1294.42C1023.3 1292.32 1022.45 1290.22 1021.25 1288.11C1020.06 1286.01 1018.63 1283.91 1017.09 1281.8C1015.55 1279.7 1013.93 1277.59 1012.04 1275.49C1010.15 1273.39 1007.9 1271.28 1005.73 1269.18C1003.56 1267.08 1001.25 1264.97 999.04 1262.87C996.83 1260.76 994.52 1258.66 992.48 1256.56C990.43 1254.45 988.48 1252.35 986.79 1250.25C985.11 1248.14 983.49 1246.04 982.38 1243.93C981.26 1241.83 980.42 1239.73 980.1 1237.62C979.79 1235.52 980.04 1233.78 980.48 1231.31C980.93 1228.84 981.87 1225.26 982.76 1222.78C983.64 1220.31 984.65 1218.58 985.78 1216.47C986.92 1214.37 988.25 1212.27 989.57 1210.16C990.9 1208.06 992.31 1205.95 993.74 1203.85C995.17 1201.75 996.64 1199.64 998.16 1197.54C999.67 1195.43 1001.29 1193.33 1002.83 1191.23C1004.36 1189.12 1005.83 1187.02 1007.37 1184.92C1008.91 1182.81 1010.48 1180.71 1012.04 1178.6C1013.6 1176.5 1015.17 1174.4 1016.71 1172.29C1018.25 1170.19 1019.72 1168.09 1021.25 1165.98C1022.79 1163.88 1024.41 1161.77 1025.93 1159.67C1027.44 1157.57 1028.87 1155.46 1030.34 1153.36C1031.82 1151.26 1033.33 1149.15 1034.76 1147.05C1036.19 1144.94 1037.6 1142.84 1038.93 1140.74C1040.25 1138.63 1041.51 1136.53 1042.71 1134.42C1043.91 1132.32 1045.07 1130.22 1046.12 1128.11C1047.17 1126.01 1048.12 1123.91 1049.02 1121.8C1049.93 1119.7 1050.77 1117.59 1051.55 1115.49C1052.33 1113.39 1053.02 1111.28 1053.7 1109.18C1054.37 1107.08 1055 1104.97 1055.59 1102.87C1056.18 1100.76 1056.7 1098.66 1057.23 1096.56C1057.76 1094.45 1058.24 1092.35 1058.74 1090.25C1059.25 1088.14 1059.79 1085.96 1060.26 1083.93C1060.73 1081.91 1061.33 1079.07 1061.55 1078.1Z" fill="#f7f6bc" stroke="#676767" stroke-width="2" stroke-linejoin="miter"/>
<line x1="1061.9" y1="1123.1" x2="1061.9" y2="1348.8" stroke="#676767" stroke-width="1.9"/>
<line x1="1061.9" y1="1204.5" x2="1061.9" y2="1265.6" stroke="#676767" stroke-width="5.4" stroke-linecap="round"/>
<circle cx="1061.9" cy="1236.4" r="1.05" fill="#ffffff"/>
<path d="M1224.75 1013.5C1224.9 1015.46 1225.32 1021.18 1225.66 1025.25C1226 1029.31 1226.4 1033.66 1226.8 1037.87C1227.2 1042.08 1227.64 1046.28 1228.06 1050.49C1228.48 1054.7 1228.97 1059.96 1229.32 1063.11C1229.68 1066.27 1229.89 1067.32 1230.21 1069.42C1230.52 1071.53 1230.84 1073.63 1231.22 1075.74C1231.59 1077.84 1231.95 1079.94 1232.48 1082.05C1233 1084.15 1233.64 1086.26 1234.37 1088.36C1235.11 1090.46 1235.91 1092.57 1236.9 1094.67C1237.89 1096.77 1239.04 1098.88 1240.3 1100.98C1241.57 1103.09 1243 1105.19 1244.47 1107.29C1245.94 1109.4 1247.5 1111.5 1249.14 1113.6C1250.78 1115.71 1252.57 1117.81 1254.32 1119.92C1256.06 1122.02 1257.89 1124.12 1259.62 1126.23C1261.34 1128.33 1263.05 1130.43 1264.67 1132.54C1266.29 1134.64 1267.86 1136.75 1269.34 1138.85C1270.81 1140.95 1272.22 1143.06 1273.5 1145.16C1274.79 1147.27 1275.98 1149.37 1277.04 1151.47C1278.09 1153.58 1279.04 1155.68 1279.81 1157.78C1280.59 1159.89 1281.22 1161.99 1281.71 1164.1C1282.19 1166.2 1282.51 1168.3 1282.72 1170.41C1282.93 1172.51 1282.97 1174.61 1282.97 1176.72C1282.97 1178.82 1282.86 1180.93 1282.72 1183.03C1282.57 1185.13 1282.4 1187.13 1282.09 1189.34C1281.77 1191.55 1281.2 1194.1 1280.82 1196.31C1280.44 1198.53 1280.09 1200.52 1279.81 1202.62C1279.54 1204.73 1279.29 1206.83 1279.18 1208.93C1279.08 1211.04 1279.08 1213.14 1279.18 1215.25C1279.29 1217.35 1279.54 1219.45 1279.81 1221.56C1280.09 1223.66 1280.51 1225.76 1280.82 1227.87C1281.14 1229.97 1281.45 1232.08 1281.71 1234.18C1281.96 1236.28 1282.3 1238.39 1282.34 1240.49C1282.38 1242.59 1282.28 1244.7 1281.96 1246.8C1281.64 1248.91 1281.12 1251.01 1280.44 1253.11C1279.77 1255.22 1278.93 1257.32 1277.92 1259.42C1276.91 1261.53 1275.65 1263.63 1274.39 1265.74C1273.12 1267.84 1271.76 1269.94 1270.35 1272.05C1268.94 1274.15 1267.4 1276.26 1265.93 1278.36C1264.46 1280.46 1262.92 1282.57 1261.51 1284.67C1260.1 1286.77 1258.84 1288.88 1257.47 1290.98C1256.1 1293.09 1254.63 1295.19 1253.31 1297.29C1251.98 1299.4 1250.72 1301.5 1249.52 1303.6C1248.32 1305.71 1247.21 1307.81 1246.11 1309.92C1245.02 1312.02 1243.97 1314.12 1242.96 1316.23C1241.95 1318.33 1240.96 1320.43 1240.05 1322.54C1239.15 1324.64 1238.33 1326.75 1237.53 1328.85C1236.73 1330.95 1235.99 1333.06 1235.26 1335.16C1234.52 1337.27 1233.78 1339.37 1233.11 1341.47C1232.44 1343.58 1231.81 1345.68 1231.22 1347.78C1230.63 1349.89 1230.1 1351.99 1229.58 1354.1C1229.05 1356.2 1228.52 1358.3 1228.06 1360.41C1227.6 1362.51 1227.18 1364.61 1226.8 1366.72C1226.42 1368.82 1226.13 1370.5 1225.79 1373.03C1225.45 1375.56 1224.92 1380.42 1224.75 1381.9L1224.05 1381.9C1223.88 1380.42 1223.35 1375.56 1223.01 1373.03C1222.67 1370.5 1222.38 1368.82 1222 1366.72C1221.62 1364.61 1221.2 1362.51 1220.74 1360.41C1220.28 1358.3 1219.75 1356.2 1219.22 1354.1C1218.7 1351.99 1218.17 1349.89 1217.58 1347.78C1216.99 1345.68 1216.36 1343.58 1215.69 1341.47C1215.02 1339.37 1214.28 1337.27 1213.54 1335.16C1212.81 1333.06 1212.07 1330.95 1211.27 1328.85C1210.47 1326.75 1209.65 1324.64 1208.75 1322.54C1207.84 1320.43 1206.85 1318.33 1205.84 1316.23C1204.83 1314.12 1203.78 1312.02 1202.69 1309.92C1201.59 1307.81 1200.48 1305.71 1199.28 1303.6C1198.08 1301.5 1196.82 1299.4 1195.49 1297.29C1194.17 1295.19 1192.7 1293.09 1191.33 1290.98C1189.96 1288.88 1188.7 1286.77 1187.29 1284.67C1185.88 1282.57 1184.34 1280.46 1182.87 1278.36C1181.4 1276.26 1179.86 1274.15 1178.45 1272.05C1177.04 1269.94 1175.68 1267.84 1174.41 1265.74C1173.15 1263.63 1171.89 1261.53 1170.88 1259.42C1169.87 1257.32 1169.03 1255.22 1168.36 1253.11C1167.68 1251.01 1167.16 1248.91 1166.84 1246.8C1166.52 1244.7 1166.42 1242.59 1166.46 1240.49C1166.5 1238.39 1166.84 1236.28 1167.09 1234.18C1167.35 1232.08 1167.66 1229.97 1167.98 1227.87C1168.29 1225.76 1168.71 1223.66 1168.99 1221.56C1169.26 1219.45 1169.51 1217.35 1169.62 1215.25C1169.72 1213.14 1169.72 1211.04 1169.62 1208.93C1169.51 1206.83 1169.26 1204.73 1168.99 1202.62C1168.71 1200.52 1168.36 1198.53 1167.98 1196.31C1167.6 1194.1 1167.03 1191.55 1166.71 1189.34C1166.4 1187.13 1166.23 1185.13 1166.08 1183.03C1165.94 1180.93 1165.83 1178.82 1165.83 1176.72C1165.83 1174.61 1165.87 1172.51 1166.08 1170.41C1166.29 1168.3 1166.61 1166.2 1167.09 1164.1C1167.58 1161.99 1168.21 1159.89 1168.99 1157.78C1169.76 1155.68 1170.71 1153.58 1171.76 1151.47C1172.82 1149.37 1174.01 1147.27 1175.3 1145.16C1176.58 1143.06 1177.99 1140.95 1179.46 1138.85C1180.94 1136.75 1182.51 1134.64 1184.13 1132.54C1185.75 1130.43 1187.46 1128.33 1189.18 1126.23C1190.91 1124.12 1192.74 1122.02 1194.48 1119.92C1196.23 1117.81 1198.02 1115.71 1199.66 1113.6C1201.3 1111.5 1202.86 1109.4 1204.33 1107.29C1205.8 1105.19 1207.23 1103.09 1208.5 1100.98C1209.76 1098.88 1210.91 1096.77 1211.9 1094.67C1212.89 1092.57 1213.69 1090.46 1214.43 1088.36C1215.16 1086.26 1215.8 1084.15 1216.32 1082.05C1216.85 1079.94 1217.21 1077.84 1217.58 1075.74C1217.96 1073.63 1218.28 1071.53 1218.59 1069.42C1218.91 1067.32 1219.12 1066.27 1219.48 1063.11C1219.83 1059.96 1220.32 1054.7 1220.74 1050.49C1221.16 1046.28 1221.6 1042.08 1222 1037.87C1222.4 1033.66 1222.8 1029.31 1223.14 1025.25C1223.48 1021.18 1223.9 1015.46 1224.05 1013.5Z" fill="#c2bdd8" stroke="#676767" stroke-width="2" stroke-linejoin="miter"/>
<line x1="1224.4" y1="1065" x2="1224.4" y2="1330.8" stroke="#676767" stroke-width="1.9"/>
<line x1="1224.4" y1="1168.6" x2="1224.4" y2="1258.1" stroke="#676767" stroke-width="5.4" stroke-linecap="round"/>
<circle cx="1224.4" cy="1209.8" r="1.05" fill="#ffffff"/>
<path d="M289.5 1474.4L289.5 1481L623.5 1481L623.5 1474.4" fill="none" stroke="#333333" stroke-width="1"/>
<path d="M902.5 1472.4L902.5 1479L1227.5 1479L1227.5 1472.4" fill="none" stroke="#333333" stroke-width="1"/>
<text class="star" x="454" y="1533.4" font-size="47" text-anchor="middle" stroke="#000" stroke-width="0.4">***</text>
<text class="star" x="1064.5" y="1532.9" font-size="47" text-anchor="middle" stroke="#000" stroke-width="0.4">**</text>
<rect x="166.2" y="925.5" width="428.1" height="127" rx="5" ry="5" fill="#ffffff" fill-opacity="0.8" stroke="#d2d2d2" stroke-width="1.3"/>
<text x="185.6" y="956.5" font-size="28.3" text-anchor="start">Architecture</text>
<rect x="183.7" y="976.8" width="52.2" height="18.3" fill="#96cac1" stroke="#7a7a7a" stroke-width="1.1"/>
<rect x="183.7" y="1014.9" width="52.2" height="18.3" fill="#f7f6bc" stroke="#7a7a7a" stroke-width="1.1"/>
<rect x="419.7" y="977.5" width="52.4" height="17.8" fill="#c2bdd8" stroke="#7a7a7a" stroke-width="1.1"/>
<text x="247.4" y="996.7" font-size="26" text-anchor="start">Linear SoA</text>
<text x="248.3" y="1033" font-size="26" text-anchor="start">LCNN</text>
<text x="482.3" y="995.7" font-size="26" text-anchor="start">NLCNN</text>
<path d="M154.2 1563.5L154.2 913.1L1425 913.1L1425 1563.5L1425 1561.5" fill="none" stroke="#0c0c0c" stroke-width="1.5"/>
<line x1="154.2" y1="1561.5" x2="1425" y2="1561.5" stroke="#0c0c0c" stroke-width="1.5"/>
<text x="136.1" y="924" font-size="26" text-anchor="end">0.20</text>
<text x="136.1" y="1004" font-size="26" text-anchor="end">0.15</text>
<text x="136.1" y="1084" font-size="26" text-anchor="end">0.10</text>
<text x="136.1" y="1164" font-size="26" text-anchor="end">0.05</text>
<text x="136.1" y="1244" font-size="26" text-anchor="end">0.00</text>
<text x="136.1" y="1324" font-size="26" text-anchor="end">−0.05</text>
<text x="136.1" y="1404" font-size="26" text-anchor="end">−0.10</text>
<text x="136.1" y="1484" font-size="26" text-anchor="end">−0.15</text>
<text x="136.1" y="1564" font-size="26" text-anchor="end">−0.20</text>
<text transform="translate(21.6 1237.3) rotate(-90)" font-size="28.3" text-anchor="middle">Δ(accuracy)</text>
<text x="451.7" y="1593.6" font-size="26" text-anchor="middle">Δ(WO,WS)</text>
<text x="1061.2" y="1592.5" font-size="26" text-anchor="middle">Δ(WO,WF)</text>
<text class="cap" x="533.6" y="796.2" font-size="37" textLength="512" lengthAdjust="spacingAndGlyphs">(a) Phoneme-based models (SI)</text>
<text class="cap" x="553.8" y="1700" font-size="37" textLength="471.5" lengthAdjust="spacingAndGlyphs">(b) Word-based models (FT)</text>
</svg></body></html>
